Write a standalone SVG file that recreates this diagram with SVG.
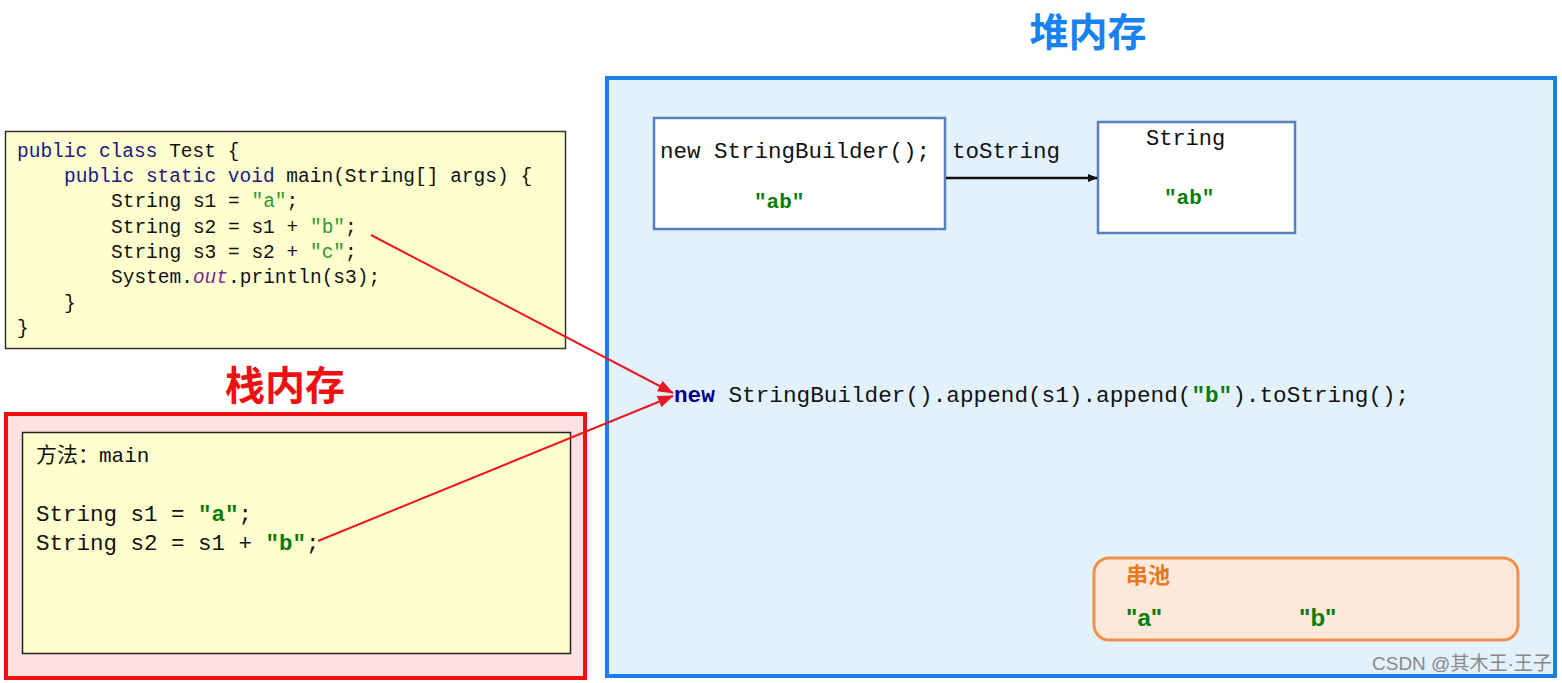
<svg xmlns="http://www.w3.org/2000/svg" width="1562" height="683" viewBox="0 0 1562 683">
<style>
.mono{font-family:"Liberation Mono","DejaVu Sans Mono",monospace;fill:#111;}
.kw{fill:#1a1a80;}
.str{fill:#2e9a2e;}
.sb{fill:#0a7a0a;font-weight:bold;}
.out{fill:#7a2a8e;font-style:italic;}
.cjk{font-family:"Noto Sans CJK SC",sans-serif;font-weight:bold;}
.box{fill:#fff;stroke:#5580bb;stroke-width:2.5;}
</style>
<defs>
<marker id="ab" markerWidth="10" markerHeight="8" refX="9" refY="4" orient="auto" markerUnits="userSpaceOnUse">
<path d="M0,0 L10,4 L0,8 z" fill="#111"/>
</marker>
<marker id="ar" markerWidth="16" markerHeight="12" refX="15" refY="6" orient="auto" markerUnits="userSpaceOnUse">
<path d="M0,0 L16,6 L0,12 z" fill="#e8191f"/>
</marker>
</defs>
<rect width="1562" height="683" fill="#fff"/>

<g id="heap">
<rect x="607" y="78" width="948" height="598" fill="#e3f1fd" stroke="#1a7fe8" stroke-width="4"/>
<text x="1088" y="46" text-anchor="middle" class="cjk" font-size="39" fill="#1a82f0">堆内存</text>
</g>

<g id="code">
<rect x="5.5" y="131.5" width="560" height="217" fill="#fefecf" stroke="#333" stroke-width="1.5"/>
<g class="mono" font-size="19.5">
<text x="17" y="157"><tspan class="kw">public class</tspan> Test {</text>
<text x="64" y="182"><tspan class="kw">public static void</tspan> main(String[] args) {</text>
<text x="111" y="207">String s1 = <tspan class="str">"a"</tspan>;</text>
<text x="111" y="233">String s2 = s1 + <tspan class="str">"b"</tspan>;</text>
<text x="111" y="258">String s3 = s2 + <tspan class="str">"c"</tspan>;</text>
<text x="111" y="283">System.<tspan class="out">out</tspan>.println(s3);</text>
<text x="64" y="309">}</text>
<text x="17" y="334">}</text>
</g>
</g>

<g id="stack">
<rect x="6" y="414" width="579" height="264" fill="#ffe1e1" stroke="#ee1111" stroke-width="4"/>
<text x="285" y="400" text-anchor="middle" class="cjk" font-size="40" fill="#ee1111">栈内存</text>
<rect x="22.5" y="432.5" width="548" height="221" fill="#fefecf" stroke="#222" stroke-width="1.5"/>
<text x="36" y="462" class="mono" font-size="21"><tspan font-family="Noto Sans CJK SC,sans-serif">方法：</tspan>main</text>
<g class="mono" font-size="22.5">
<text x="36" y="521">String s1 = <tspan class="sb">"a"</tspan>;</text>
<text x="36" y="550">String s2 = s1 + <tspan class="sb">"b"</tspan>;</text>
</g>
</g>

<g id="sb-node">
<rect x="654" y="118" width="291" height="111" class="box"/>
<text x="660" y="158" class="mono" font-size="22.5">new StringBuilder();</text>
<text x="754" y="208" class="mono sb" font-size="21">"ab"</text>
</g>

<g id="string-node">
<rect x="1098" y="122" width="197" height="111" class="box"/>
<text x="1146" y="145" class="mono" font-size="22">String</text>
<text x="1164" y="204" class="mono sb" font-size="21">"ab"</text>
</g>

<g id="expr">
<text x="674" y="402" class="mono" font-size="22.7"><tspan fill="#000080" font-weight="bold">new</tspan> StringBuilder().append(s1).append(<tspan fill="#0a7a0a" font-weight="bold">"b"</tspan>).toString();</text>
</g>

<g id="pool">
<rect x="1094" y="558" width="424" height="82" rx="15" fill="#fde9da" stroke="#f0904a" stroke-width="3"/>
<text x="1126" y="583" class="cjk" font-size="22" fill="#e87722">串池</text>
<text x="1126" y="626" font-family="Liberation Sans,sans-serif" font-weight="bold" font-size="24" fill="#0a7a0a">"a"</text>
<text x="1299" y="626" font-family="Liberation Sans,sans-serif" font-weight="bold" font-size="24" fill="#0a7a0a">"b"</text>
</g>

<g id="connectors">
<line x1="946" y1="178" x2="1097" y2="178" stroke="#111" stroke-width="2.5" marker-end="url(#ab)"/>
<text x="952" y="158" class="mono" font-size="22.5">toString</text>
<line x1="371" y1="235" x2="673" y2="393" stroke="#e8191f" stroke-width="2" marker-end="url(#ar)"/>
<line x1="318" y1="541" x2="673" y2="396" stroke="#e8191f" stroke-width="2" marker-end="url(#ar)"/>
</g>

<text x="1372" y="670" font-family="Liberation Sans,Noto Sans CJK SC,sans-serif" font-size="19" fill="#888">CSDN @其木王·王子</text>
</svg>
